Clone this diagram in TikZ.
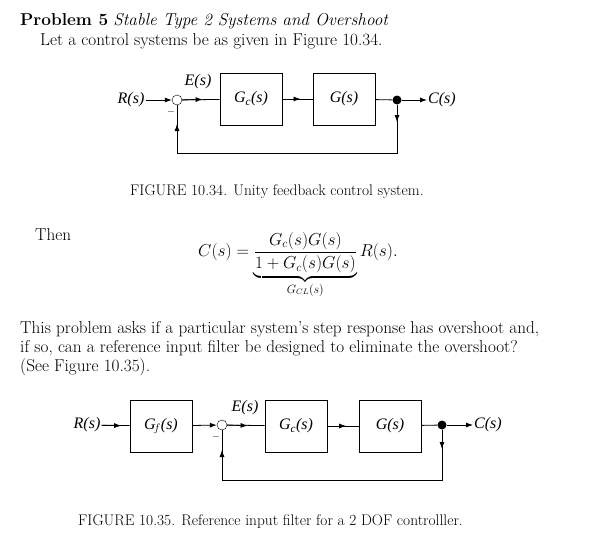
\documentclass[tikz,border=0pt]{standalone}
\usepackage{amsmath}
\usepackage{fontspec}
\newfontfamily\tms{Liberation Serif}
\usetikzlibrary{arrows.meta,calc}
\begin{document}
\begin{tikzpicture}[x=1pt,y=-1pt,
  txt/.style={anchor=base west,inner sep=0,font=\fontsize{17.2}{20}\selectfont},
  blk/.style={draw,thick,minimum width=62pt,minimum height=52pt,inner sep=0,font=\tms\itshape\fontsize{16}{18}\selectfont},
  lbl/.style={inner sep=1pt,font=\tms\itshape\fontsize{16}{18}\selectfont},
  sumc/.style={draw,circle,minimum size=10pt,inner sep=0},
  dotc/.style={fill,circle,minimum size=9pt,inner sep=0},
  sig/.style={thick,-{Latex[length=7pt,width=5pt]}},
  ln/.style={thick}]
\useasboundingbox (0,0) rectangle (602,551);
\node[txt] (t1) at (20,26) {\textbf{Problem 5} \textit{Stable Type 2 Systems and Overshoot}};
\node[txt] (t2) at (40,46) {Let a control systems be as given in Figure 10.34.};
% diagram 1
\node[lbl] (r1) at (131,100) {R(s)};
\node[sumc] (s1) at (177,100) {};
\node[blk] (gc1) at (251,99) {G\textsubscript{c}(s)};
\node[blk] (g1) at (344,99) {G(s)};
\node[dotc] (d1) at (397,100) {};
\node[lbl] (c1) at (442,100) {C(s)};
\node[lbl] (e1) at (198,82) {E(s)};
\node[inner sep=0] (m1) at (171,112) {$-$};
\coordinate (fb1a) at (397,153);
\coordinate (fb1b) at (177,153);
\draw[sig] (r1) -- (s1);
\draw[sig] (s1) -- ($(s1)!0.6!(gc1.west)$) ;
\draw[ln] (s1) -- (gc1);
\draw[sig] (gc1) -- ($(gc1.east)!0.6!(g1.west)$);
\draw[ln] (gc1) -- (g1);
\draw[ln] (g1) -- (d1);
\draw[sig] (d1) -- (c1);
\draw[ln] (d1) -- (fb1a) -- (fb1b) -- (s1);
\draw[sig] (d1) -- (397,122);
\draw[sig] (fb1b) -- (177,124);
\node[txt,font=\fontsize{15.4}{18}\selectfont] (cap1) at (130,195) {FIGURE 10.34. Unity feedback control system.};
\node[txt] (then) at (35,240) {Then};
\node[anchor=center,inner sep=0,font=\fontsize{17}{20}\selectfont] (eq) at (298,265) {$C(s)=\underbrace{\dfrac{G_c(s)G(s)}{1+G_c(s)G(s)}}_{G_{CL}(s)}R(s).$};
\node[txt] (p1) at (20,333) {This problem asks if a particular system's step response has overshoot and,};
\node[txt] (p2) at (20,352) {if so, can a reference input filter be designed to eliminate the overshoot?};
\node[txt] (p3) at (20,371) {(See Figure 10.35).};
% diagram 2
\node[lbl] (r2) at (87,425) {R(s)};
\node[blk] (gf) at (161,426) {G$_{\!f}$(s)};
\node[sumc] (s2) at (222,425) {};
\node[blk] (gc2) at (296,426) {G\textsubscript{c}(s)};
\node[blk] (g2) at (390,426) {G(s)};
\node[dotc] (d2) at (442,425) {};
\node[lbl] (c2) at (488,425) {C(s)};
\node[lbl] (e2) at (245,408) {E(s)};
\node[inner sep=0] (m2) at (216,437) {$-$};
\coordinate (fb2a) at (442,480);
\coordinate (fb2b) at (222,480);
\draw[ln] (r2) -- (gf);
\draw[sig] (r2) -- ($(r2.east)!0.7!(gf.west)$);
\draw[sig] (gf) -- (s2);
\draw[ln] (s2) -- (gc2);
\draw[sig] (s2) -- ($(s2)!0.6!(gc2.west)$);
\draw[ln] (gc2) -- (g2);
\draw[sig] (gc2) -- ($(gc2.east)!0.6!(g2.west)$);
\draw[ln] (g2) -- (d2);
\draw[sig] (d2) -- (c2);
\draw[ln] (d2) -- (fb2a) -- (fb2b) -- (s2);
\draw[sig] (d2) -- (442,449);
\draw[sig] (fb2b) -- (222,450);
\node[txt,font=\fontsize{15.4}{18}\selectfont] (cap2) at (78,525) {FIGURE 10.35. Reference input filter for a 2 DOF controlller.};
\end{tikzpicture}
\end{document}
